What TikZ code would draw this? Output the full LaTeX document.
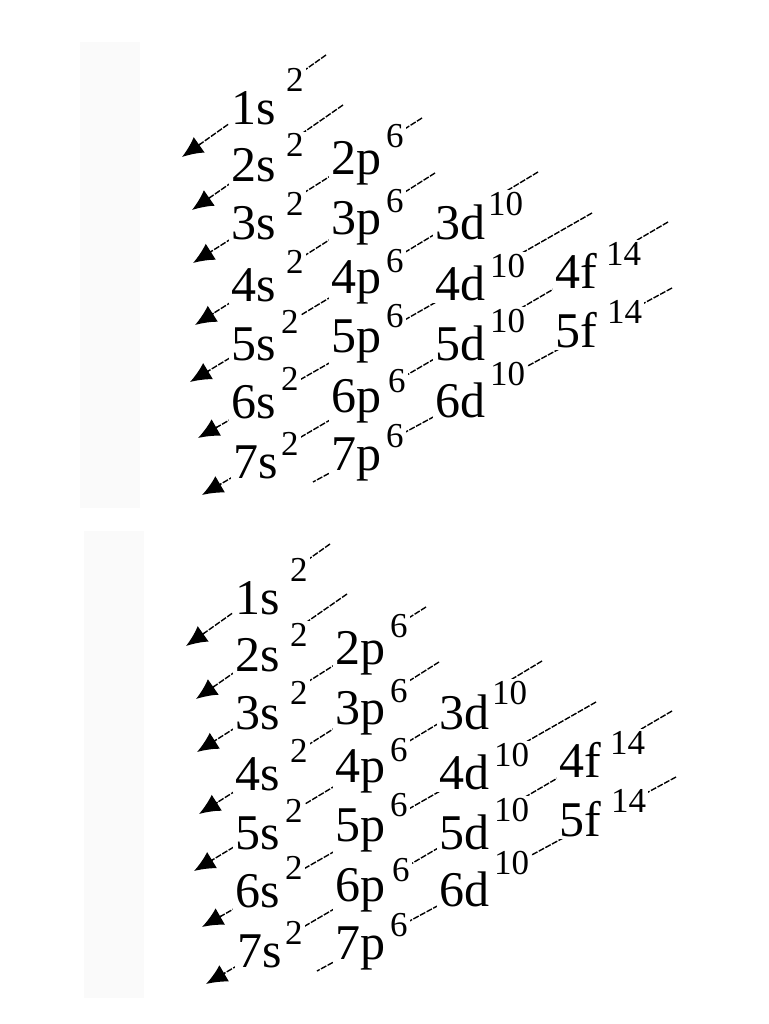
\documentclass[tikz,border=0pt]{standalone}
\usepackage{fontspec}
\setmainfont{Liberation Serif}
\usetikzlibrary{arrows.meta,backgrounds,calc}
\begin{document}
\begin{tikzpicture}[x=1pt,y=-1pt,
  orb/.style={anchor=base west,inner sep=0pt,font=\fontsize{50}{50}\selectfont},
  supx/.style={anchor=base west,inner sep=0pt,font=\fontsize{35}{35}\selectfont},
  diag/.style={line width=1.4pt,dash pattern=on 6pt off 1.5pt},
  tipped/.style={line width=1.4pt,-{Latex[length=21pt,width=19pt]}},
  maskbox/.style={fill=white},
  shadebox/.style={fill=black!2}]
\useasboundingbox (0,0) rectangle (768,1024);
\begin{pgfonlayer}{background}
  \fill[shadebox] (80,42) rectangle (140,508);
  \fill[shadebox] (84,531) rectangle (144,998);
\end{pgfonlayer}
\foreach \c/\ox/\oy in {a/0/0,b/4/489}{
 \begin{scope}[shift={(\ox,\oy)}]
  \foreach \k/\ux/\uy/\tx/\ty in {1/326/55/182/157, 2/343/105/192/210, 3/422/118/193/263,
     4/435/173/195/325, 5/538/172/190/382, 6/592/213/198/438, 7/668/222/202/495,
     8/672/288/313/482}{
    \coordinate (\c-u\k) at (\ux,\uy);
    \coordinate (\c-t\k) at (\tx,\ty);
  }
  \begin{pgfonlayer}{background}
    \foreach \k in {1,...,7}{
      \draw[diag,shorten >=18pt] (\c-u\k) -- (\c-t\k);
      \draw[tipped] ($(\c-t\k)!22pt!(\c-u\k)$) -- (\c-t\k);
    }
    \draw[diag] (\c-u8) -- (\c-t8);
  \end{pgfonlayer}
  \foreach \n/\x/\y/\sx/\sy/\e in {
     1s/231/125/286/92/2, 2s/231/182/286/157/2, 3s/231/240/286/215/2,
     4s/231/301/286/273/2, 5s/231/360/281/333/2, 6s/231/418/281/390/2,
     7s/233/478/281/455/2,
     2p/331/175/386/148/6, 3p/331/235/386/213/6, 4p/331/293/386/272/6,
     5p/331/352/386/327/6, 6p/331/412/388/392/6, 7p/331/470/386/447/6,
     3d/435/240/488/215/10, 4d/435/300/490/277/10, 5d/435/360/490/332/10,
     6d/435/417/490/385/10,
     4f/555/288/606/265/14, 5f/555/347/607/323/14}{
    \node[orb] (\c-\n) at (\x,\y) {\n};
    \node[supx] (\c-\n-e) at (\sx,\sy) {\e};
    \begin{pgfonlayer}{background}
      \fill[maskbox] ([shift={(-2,2)}]\c-\n.south west) rectangle ([shift={(2,-2)}]\c-\n-e.north east);
    \end{pgfonlayer}
  }
 \end{scope}
}
\end{tikzpicture}
\end{document}
